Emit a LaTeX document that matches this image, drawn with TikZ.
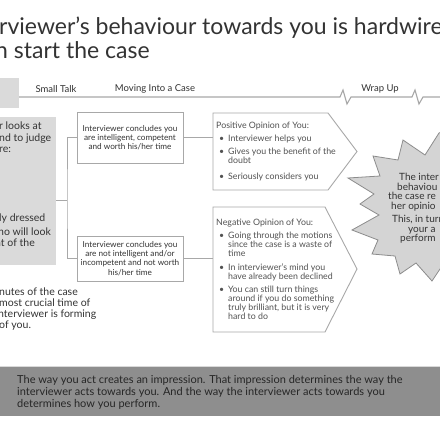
\documentclass[tikz,border=0pt]{standalone}
\usepackage{fontspec}
\setmainfont{Lato}
\definecolor{txt}{HTML}{333333}
\definecolor{lgray}{HTML}{DADADA}
\definecolor{edge}{HTML}{A8A8A8}
\definecolor{band}{HTML}{8E8E8E}
\definecolor{starfill}{HTML}{D4D4D4}
\tikzset{
  frag/.style={anchor=base west, inner sep=0pt, text=txt},
  ttl/.style={frag, font=\fontsize{23}{26}\selectfont},
  side/.style={frag, font=\fontsize{10.5}{12}\selectfont},
  lbl/.style={inner sep=0pt, text=txt, font=\fontsize{9.5}{11}\selectfont},
  cbox/.style={draw=edge, line width=0.9pt, align=center, inner sep=0pt, text=txt, font=\fontsize{8.2}{9.2}\selectfont, minimum width=106pt},
  conn/.style={draw=edge, line width=0.9pt},
  pent/.style={draw=edge, line width=0.9pt, fill=white},
  ptxt/.style={frag, font=\fontsize{8.8}{10}\selectfont, text=txt!85},
  bul/.style={frag, font=\fontsize{8.8}{10}\selectfont, text=txt!85},
  startxt/.style={frag, font=\fontsize{10}{12}\selectfont},
  bandtxt/.style={frag, font=\fontsize{11}{13}\selectfont, text=black!85}
}

\begin{document}
\begin{tikzpicture}[x=1pt,y=-1pt]
\useasboundingbox (0,0) rectangle (440,440);
\clip (0,0) rectangle (440,440);
\fill[white] (0,0) rectangle (440,440);

\node[ttl] (t1) at (-1,34) {rviewer’s behaviour towards you is hardwire};
\node[ttl] (t2) at (-5,58) {n start the case};

\fill[lgray] (0,78) rectangle (19,108);
\draw[edge, line width=1.1pt] (19,97) -- (340,97) -- (343,90) -- (347,104) -- (351,97) -- (412,97) -- (415,90) -- (419,104) -- (423,97) -- (440,97);
\node[lbl] (st) at (56,89) {Small Talk};
\node[lbl] (mc) at (155,89) {Moving Into a Case};
\node[lbl] (wu) at (380,89) {Wrap Up};

\fill[lgray] (0,117) rectangle (56,265);
\coordinate (lb) at (56,200);
\node[side] (l1) at (-1,129) {r looks at};
\node[side] (l2) at (-1,141) {nd to judge};
\node[side] (l3) at (-1,152) {re:};
\node[side] (l4) at (-1,221) {ly dressed};
\node[side] (l5) at (-2,235) {ho will look};
\node[side] (l6) at (-5,246) {nt of the};

\node[side] (b1) at (-1,295) {nutes of the case};
\node[side] (b2) at (-1,306) {most crucial time of};
\node[side] (b3) at (-2,317) {nterviewer is forming};
\node[side] (b4) at (-1,328) {of you.};

\node[cbox, minimum height=51pt] (cpos) at (130,137.5) {Interviewer concludes you\\are intelligent, competent\\and worth his/her time};
\node[cbox, minimum height=45pt] (cneg) at (130,258.5) {Interviewer concludes you\\are not intelligent and/or\\incompetent and not worth\\his/her time};

\coordinate (jx) at (67,200);
\draw[conn] (lb) -- (jx);
\draw[conn] (cpos.west) -| (jx) |- (cneg.west);

\draw[pent] (213,113) -- (328,113) -- (357,151.5) -- (328,190) -- (213,190) -- cycle;
\coordinate (ppos) at (213,137.5);
\draw[pent] (213,207) -- (325,207) -- (357,269) -- (325,332) -- (213,332) -- cycle;
\coordinate (pneg) at (213,258.5);
\draw[conn] (cpos.east) -- (ppos);
\draw[conn] (cneg.east) -- (pneg);

\node[ptxt] (pt) at (216,128) {Positive Opinion of You:};
\node[bul] (pb1) at (219,141) {•};
\node[bul] (p1) at (228,141) {Interviewer helps you};
\node[bul] (pb2) at (219,154.5) {•};
\node[bul] (p2) at (228,154.5) {Gives you the benefit of the};
\node[bul] (p2b) at (228,163) {doubt};
\node[bul] (pb3) at (219,179) {•};
\node[bul] (p3) at (228,179) {Seriously considers you};

\node[ptxt] (nt) at (216,225.5) {Negative Opinion of You:};
\node[bul] (nb1) at (219,238) {•};
\node[bul] (n1a) at (228,238) {Going through the motions};
\node[bul] (n1b) at (228,247) {since the case is a waste of};
\node[bul] (n1c) at (228,256) {time};
\node[bul] (nb2) at (219,270) {•};
\node[bul] (n2a) at (228,270) {In interviewer’s mind you};
\node[bul] (n2b) at (228,279) {have already been declined};
\node[bul] (nb3) at (219,292.5) {•};
\node[bul] (n3a) at (228,292.5) {You can still turn things};
\node[bul] (n3b) at (228,301.5) {around if you do something};
\node[bul] (n3c) at (228,310.5) {truly brilliant, but it is very};
\node[bul] (n3d) at (228,319.5) {hard to do};

\draw[draw=black!45, fill=starfill, line width=0.8pt] (470,120) -- (439,133) -- (425,155) -- (403,140) -- (398,160) -- (373,156) -- (380,176) -- (348,178) -- (374,194) -- (360,204) -- (379,215) -- (352,230) -- (378,240) -- (372,254) -- (395,256) -- (400,274) -- (416,263) -- (432,281) -- (442,266) -- (470,290) -- cycle;
\node[startxt] (s1) at (399,180) {The inter};
\node[startxt] (s2) at (397,190) {behaviou};
\node[startxt] (s3) at (388,199.5) {the case re};
\node[startxt] (s4) at (391,209) {her opinio};
\node[startxt] (s5) at (392,222) {This, in turn};
\node[startxt] (s6) at (408,232) {your a};
\node[startxt] (s7) at (400,241) {perform};

\fill[band] (0,366) rectangle (440,416);
\draw[white!85!black, line width=0.8pt] (0,366) -- (440,366);
\node[bandtxt] (bt1) at (17,383) {The way you act creates an impression. That impression determines the way the};
\node[bandtxt] (bt2) at (17,395) {interviewer acts towards you. And the way the interviewer acts towards you};
\node[bandtxt] (bt3) at (17,407) {determines how you perform.};
\end{tikzpicture}
\end{document}
